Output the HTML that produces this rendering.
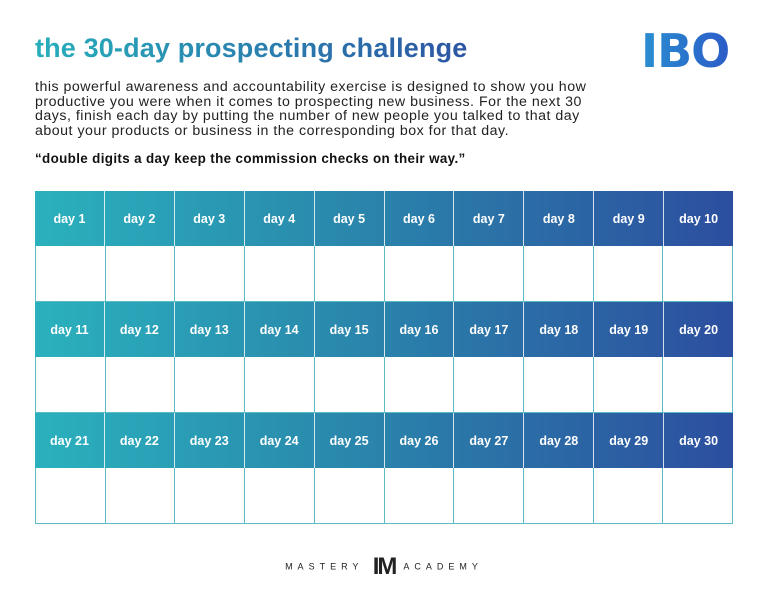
<!DOCTYPE html>
<html><head><meta charset="utf-8"><style>
body{margin:0;width:768px;height:594px;background:#fff;font-family:"Liberation Sans",sans-serif;position:relative;overflow:hidden}
.title{position:absolute;left:35px;top:33px;font-size:27px;font-weight:bold;letter-spacing:0.15px;background:linear-gradient(90deg,#27aebb,#2c55a3);-webkit-background-clip:text;background-clip:text;color:transparent;white-space:nowrap}
.body{position:absolute;left:35px;top:80px;font-size:14.2px;line-height:14.6px;color:#222;letter-spacing:0.5px;white-space:nowrap}
.quote{position:absolute;left:35px;top:151px;font-size:13.4px;font-weight:bold;color:#111;letter-spacing:0.36px;white-space:nowrap}
.logo{position:absolute;left:641px;top:24px;font-size:46px;font-weight:900;font-family:"DejaVu Sans",sans-serif;letter-spacing:-1px;background:linear-gradient(90deg,#2a8fd0,#2b5cc8);-webkit-background-clip:text;background-clip:text;color:transparent}
#grid{position:absolute;left:35px;top:191px;width:698px}
.hrow{height:55px;display:flex;background:linear-gradient(90deg,#2ab1bd,#2a87ac 45%,#2c4e9f)}
.erow{height:56px;display:flex;border-left:1px solid #5bbcc8;border-right:1px solid #5bbcc8;box-sizing:border-box}
.hcell{flex:1;border-right:1px solid rgba(255,255,255,0.8);color:#fff;font-weight:bold;font-size:12.5px;display:flex;align-items:center;justify-content:center}
.hcell:last-child{border-right:none}
.ecell{flex:1;border-right:1px solid #5bbcc8;border-bottom:1px solid #5bbcc8}
.ecell:last-child{border-right:none}
.footer{position:absolute;top:553px;left:0;width:768px;text-align:center;font-size:9px;letter-spacing:5px;color:#222}
.im{font-size:24px;font-weight:900;letter-spacing:-2px;vertical-align:middle;margin:0 8px 0 2px}
</style></head><body>
<div class="title">the 30-day prospecting challenge</div>
<div class="logo">IBO</div>
<div class="body">this powerful awareness and accountability exercise is designed to show you how<br>productive you were when it comes to prospecting new business. For the next 30<br>days, finish each day by putting the number of new people you talked to that day<br>about your products or business in the corresponding box for that day.</div>
<div class="quote">“double digits a day keep the commission checks on their way.”</div>
<div id="grid"></div>
<div class="footer">MASTERY <span class="im">IM</span>ACADEMY</div>
<script>
const weeks=[[1,2,3,4,5,6,7,8,9,10],[11,12,13,14,15,16,17,18,19,20],[21,22,23,24,25,26,27,28,29,30]];
const g=document.getElementById('grid');
weeks.forEach(w=>{
  const h=document.createElement('div');h.className='hrow';
  
  
  const e=document.createElement('div');e.className='erow';
  
  
  w.forEach(d=>{
    const c=document.createElement('div');c.className='hcell';c.textContent='day '+d;
    
    
    h.appendChild(c);
    const x=document.createElement('div');x.className='ecell';
    
    
    e.appendChild(x);
  });
  g.appendChild(h);g.appendChild(e);
});
</script>
</body></html>
